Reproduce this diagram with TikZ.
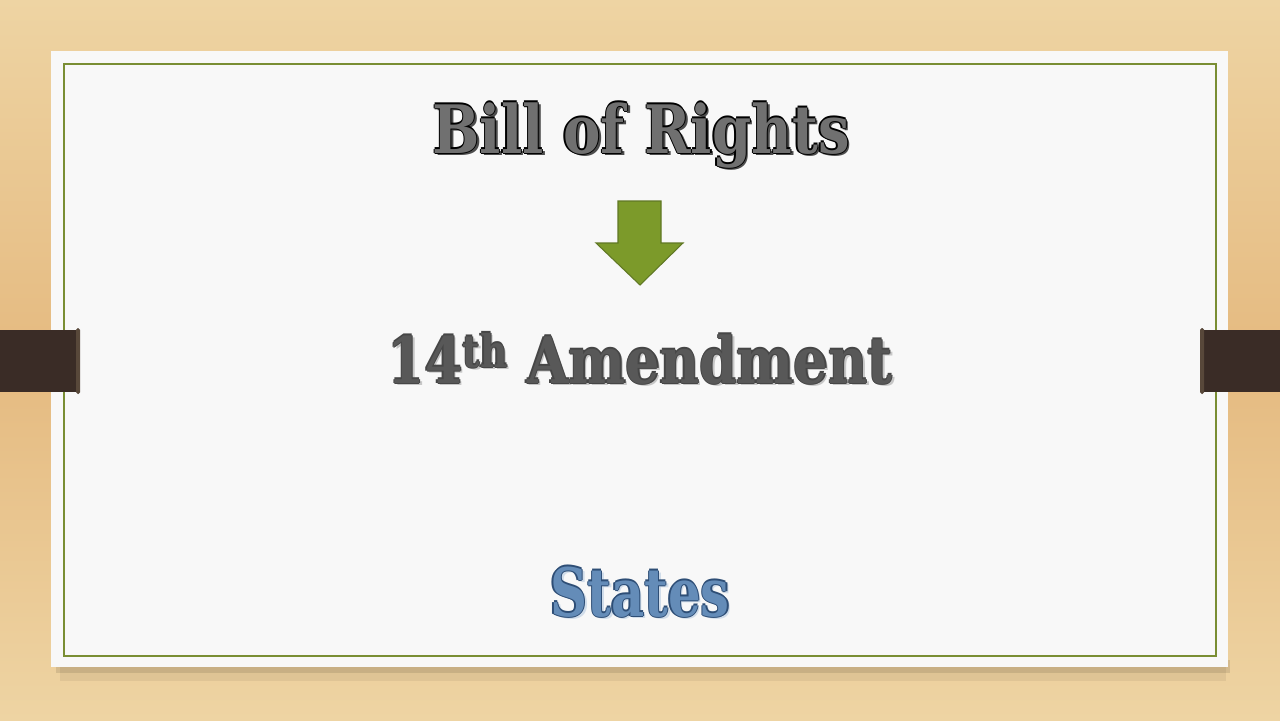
\documentclass[tikz,border=0pt]{standalone}
\usepackage{fontspec}
\setmainfont{DejaVu Serif}
\newfontfamily\slidefont[FakeStretch=0.84]{DejaVu Serif}
\newfontfamily\narrowfont[FakeStretch=0.77]{DejaVu Serif}
\usetikzlibrary{positioning}
\definecolor{woodlight}{RGB}{238,212,163}
\definecolor{woodmid}{RGB}{229,186,128}
\definecolor{cardwhite}{RGB}{248,248,248}
\definecolor{framegreen}{RGB}{122,142,52}
\definecolor{arrowgreen}{RGB}{124,154,42}
\definecolor{arrowedge}{RGB}{96,120,36}
\definecolor{barbrown}{RGB}{58,44,38}
\definecolor{barcap}{RGB}{88,72,58}
\definecolor{titlegray}{RGB}{112,112,112}
\definecolor{amendgray}{RGB}{88,88,88}
\definecolor{statesblue}{RGB}{100,140,184}
\definecolor{statesedge}{RGB}{46,78,118}
% outlined text with a shadow: #1 edge, #2 fill, #3 shadow, #4 text
\newcommand\edged[4]{\leavevmode
  \rlap{\hspace{1.6pt}\raisebox{-1.6pt}{\textcolor{#3}{#4}}}%
  \rlap{\hspace{-.7pt}\textcolor{#1}{#4}}\rlap{\hspace{.7pt}\textcolor{#1}{#4}}%
  \rlap{\raisebox{.7pt}{\textcolor{#1}{#4}}}\rlap{\raisebox{-.7pt}{\textcolor{#1}{#4}}}%
  \textcolor{#2}{#4}}
\begin{document}
\begin{tikzpicture}[x=0.02cm, y=-0.02cm,
    bigtext/.style={inner sep=0pt, anchor=base, font=\slidefont\bfseries\fontsize{38}{42}\selectfont},
    midtext/.style={inner sep=0pt, anchor=base, font=\slidefont\bfseries\fontsize{36.5}{40}\selectfont},
    smalltext/.style={inner sep=0pt, anchor=base, font=\narrowfont\bfseries\fontsize{38}{40}\selectfont},
    bar/.style={fill=barbrown, draw=none}]
% wood background
\shade[top color=woodlight, bottom color=woodlight, middle color=woodmid] (0,0) rectangle (1280,720);
\useasboundingbox (0,0) rectangle (1280,720);
% card with shadow
\fill[black, opacity=.06] (60,660) rectangle (1226,681);
\fill[black, opacity=.10] (56,660) rectangle (1230,673);
\fill[cardwhite] (51,51) rectangle (1228,667);
\draw[framegreen, line width=1.2pt] (64,64) rectangle (1216,656);
% bars
\fill[bar] (0,330) rectangle (79,392);
\fill[barcap, rounded corners=1pt] (76,328) rectangle (80,394);
\fill[bar] (1201,330) rectangle (1280,392);
\fill[barcap, rounded corners=1pt] (1200,328) rectangle (1204,394);

% texts
\node[bigtext] (title) at (641,153){\edged{black}{titlegray}{black!70}{Bill of Rights}};
\node[midtext] (amend) at (640,383){\edged{amendgray!80!black}{amendgray}{black!22}{14\textsuperscript{th} Amendment}};
\node[smalltext] (states) at (640,616){\edged{statesedge}{statesblue}{statesblue!30}{States}};

% arrow
\draw[fill=arrowgreen, draw=arrowedge, line width=.6pt]
    (618,201)--(661,201)--(661,243)--(683,243)--(640,285)--(596,243)--(618,243)--cycle;

\end{tikzpicture}
\end{document}
